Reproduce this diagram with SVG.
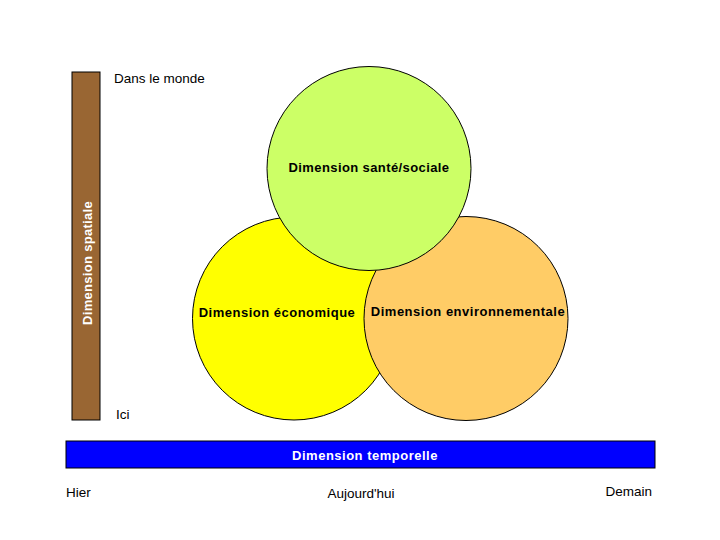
<svg xmlns="http://www.w3.org/2000/svg" width="720" height="540" viewBox="0 0 720 540">
<style>
.c{stroke:#000;stroke-width:1}
.lb{font-family:"Liberation Sans",Arial,sans-serif;font-size:13px;font-weight:bold;fill:#000;text-anchor:middle;letter-spacing:0.4px}
.wb{font-family:"Liberation Sans",Arial,sans-serif;font-size:13px;font-weight:bold;fill:#fff;text-anchor:middle;letter-spacing:0.5px}
.t{font-family:"Liberation Sans",Arial,sans-serif;font-size:13.5px;fill:#000}
</style>
<rect width="720" height="540" fill="#fff"/>
<g id="axe-spatial">
<rect x="72" y="72" width="28" height="348" fill="#996633" stroke="#000"/>
<text class="wb" style="letter-spacing:0.3px" transform="translate(92,263) rotate(-90)">Dimension spatiale</text>
<text class="t" x="114" y="83">Dans le monde</text>
<text class="t" x="116" y="419">Ici</text>
</g>
<g id="economique">
<circle class="c" cx="294" cy="318.5" r="101.5" fill="#FFFF00"/>
</g>
<g id="environnementale">
<circle class="c" cx="466" cy="318.5" r="102" fill="#FFCC66"/>
</g>
<g id="sante">
<circle class="c" cx="369" cy="168.5" r="102" fill="#CCFF66"/>
<text class="lb" x="369" y="171.5">Dimension santé/sociale</text>
</g>
<text class="lb" x="277" y="317" style="letter-spacing:0.5px">Dimension économique</text>
<text class="lb" x="468" y="316" style="letter-spacing:0.5px">Dimension environnementale</text>
<g id="axe-temporel">
<rect x="66" y="441" width="589" height="27" fill="#0000FF" stroke="#000"/>
<text class="wb" x="365" y="460">Dimension temporelle</text>
<text class="t" x="66" y="497">Hier</text>
<text class="t" x="361" y="498" text-anchor="middle">Aujourd'hui</text>
<text class="t" x="652" y="496" text-anchor="end">Demain</text>
</g>
</svg>
